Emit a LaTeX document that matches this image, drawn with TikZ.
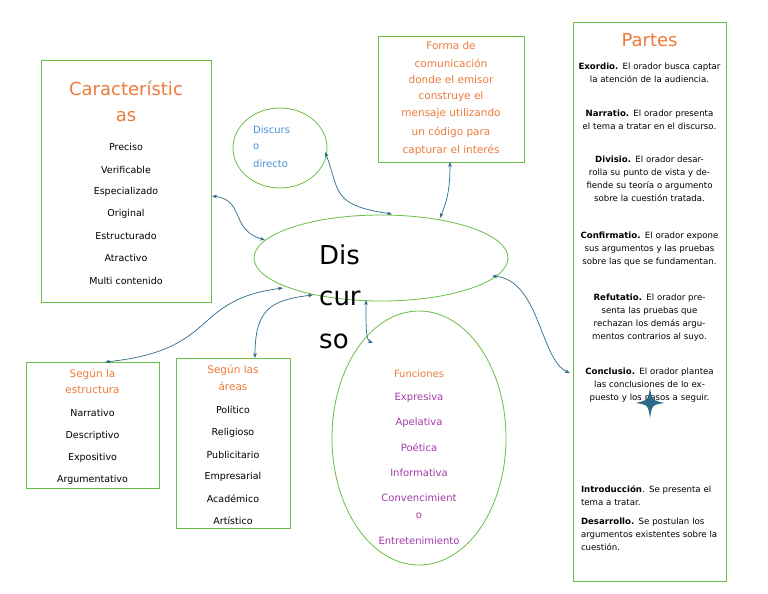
\documentclass[tikz,border=0pt]{standalone}
\usepackage{fontspec}
\setmainfont{DejaVu Sans}
\usetikzlibrary{arrows.meta}
\definecolor{gr}{HTML}{6BBE45}
\definecolor{orn}{HTML}{EE7B3A}
\definecolor{blu}{HTML}{4A90D9}
\definecolor{mag}{HTML}{A23AA8}
\definecolor{arr}{HTML}{2D6A8C}
\tikzset{
 box/.style={draw=gr,line width=0.8pt},
 con/.style={draw=arr,line width=0.7pt,{Stealth[length=5pt]}-{Stealth[length=5pt]}},
 li/.style={font=\fontsize{9.5}{11}\selectfont,inner sep=0pt},
 par/.style={font=\fontsize{8.6}{13}\selectfont,text width=142pt,align=center,inner sep=0pt,anchor=north},
 parl/.style={par,align=left}
}
\begin{document}
\begin{tikzpicture}[x=1pt,y=-1pt]
\useasboundingbox[fill=white] (0,0) rectangle (768,594);
% boxes
\node[box,minimum width=170pt,minimum height=242pt] (car) at (126,181) {};
\node[box,minimum width=146pt,minimum height=126pt] (forma) at (451,99) {};
\node[box,minimum width=153pt,minimum height=559pt] (partes) at (649.5,301.5) {};
\node[box,minimum width=133pt,minimum height=126pt] (est) at (92.5,425) {};
\node[box,minimum width=114pt,minimum height=170pt] (areas) at (233,443) {};
\draw[box] (280,148) ellipse [x radius=47,y radius=40];
\coordinate (dd) at (280,148);
\draw[box] (381,258) ellipse [x radius=127,y radius=43];
\coordinate (disc) at (381,258);
\draw[box] (419,438) ellipse [x radius=87,y radius=127];
\coordinate (fun) at (419,438);
% Caracteristicas
\node[li,text=orn,font=\fontsize{18}{20}\selectfont] (ct1) at (126,88) {Característic};
\node[li,text=orn,font=\fontsize{18}{20}\selectfont] (ct2) at (126,117) {as};
\foreach \t/\y [count=\i] in {Preciso/147,Verificable/170,Especializado/192,Original/214,Estructurado/236,Atractivo/258,Multi contenido/281}
  \node[li] (c\i) at (126,\y) {\t};
% Discurso directo
\foreach \t/\y [count=\i] in {Discurs/130,o/147,directo/164}
  \node[li,text=blu,anchor=west,font=\fontsize{10}{12}\selectfont] (d\i) at (253,\y) {\t};
% Forma
\foreach \t/\y [count=\i] in {Forma de/46,comunicación/63,donde el emisor/80,construye el/97,mensaje utilizando/114,un código para/132,capturar el interés/150}
  \node[li,text=orn,font=\fontsize{10.5}{12}\selectfont] (f\i) at (451,\y) {\t};
% Discurso
\foreach \t/\y [count=\i] in {Dis/255,cur/298,so/341}
  \node[li,font=\fontsize{26}{30}\selectfont,anchor=west] (s\i) at (319,\y) {\t};
% Funciones
\node[li,text=orn,font=\fontsize{10}{12}\selectfont] (fu0) at (419,374) {Funciones};
\foreach \t/\y [count=\i] in {Expresiva/398,Apelativa/423,Poética/448,Informativa/473,Convencimient/498,o/516}
  \node[li,text=mag,font=\fontsize{10}{12}\selectfont] (fu\i) at (419,\y) {\t};
\begin{scope}
\clip (fun) ellipse [x radius=86,y radius=126];
\node[li,text=mag,font=\fontsize{10}{12}\selectfont] (fu7) at (419,541) {Entretenimiento};
\end{scope}
% Segun estructura
\node[li,text=orn,font=\fontsize{10.5}{12}\selectfont] (e0) at (92.5,374) {Según la};
\node[li,text=orn,font=\fontsize{10.5}{12}\selectfont] (e00) at (92.5,390) {estructura};
\foreach \t/\y [count=\i] in {Narrativo/413,Descriptivo/436,Expositivo/458,Argumentativo/480}
  \node[li] (e\i) at (92.5,\y) {\t};
% Segun areas
\node[li,text=orn,font=\fontsize{10.5}{12}\selectfont] (a0) at (233,370) {Según las};
\node[li,text=orn,font=\fontsize{10.5}{12}\selectfont] (a00) at (233,386) {áreas};
\foreach \t/\y [count=\i] in {Político/410,Religioso/433,Publicitario/455,Empresarial/477,Académico/499}
  \node[li] (a\i) at (233,\y) {\t};
\begin{scope}
\clip (176,510) rectangle (290,527);
\node[li] (a6) at (233,521) {Artístico};
\end{scope}
% Partes
\node[li,text=orn,font=\fontsize{18}{20}\selectfont] (pt) at (649.5,40) {Partes};
\node[par] (p1) at (649.5,63) {\textbf{Exordio.} El orador busca captar la atención de la audiencia.};
\node[par] (p2) at (649.5,110) {\textbf{Narratio.} El orador presenta el tema a tratar en el discurso.};
\node[par] (p3) at (649.5,156) {\textbf{Divisio.} El orador desarrolla su punto de vista y defiende su teoría o argumento sobre la cuestión tratada.};
\node[par] (p4) at (649.5,232) {\textbf{Confirmatio.} El orador expone sus argumentos y las pruebas sobre las que se fundamentan.};
\node[par] (p5) at (649.5,294) {\textbf{Refutatio.} El orador presenta las pruebas que rechazan los demás argumentos contrarios al suyo.};
\node[par] (p6) at (649.5,368) {\textbf{Conclusio.} El orador plantea las conclusiones de lo expuesto y los pasos a seguir.};
\node[parl,text width=140pt] (p7) at (651,485) {\textbf{Introducción}. Se presenta el tema a tratar.};
\node[parl,text width=140pt] (p8) at (651,518) {\textbf{Desarrollo.} Se postulan los argumentos existentes sobre la cuestión.};
% star
\fill[arr] (650,388) .. controls (652,400) .. (664,403) .. controls (652,405) .. (650,418) .. controls (648,405) .. (636,403) .. controls (648,400) .. (650,388) -- cycle;
% connectors
\coordinate (k1) at (212,196); \coordinate (k2) at (265,240);
\draw[con] (k1) .. controls (245,200) and (230,230) .. (k2);
\coordinate (k3) at (325,152); \coordinate (k4) at (392,214);
\draw[con] (k3) .. controls (340,190) and (330,205) .. (k4);
\coordinate (k5) at (450,162); \coordinate (k6) at (440,218);
\draw[con] (k5) .. controls (450,195) and (445,205) .. (k6);
\coordinate (k7) at (492,276); \coordinate (k8) at (570,373);
\draw[con] (k7) .. controls (540,280) and (540,360) .. (k8);
\coordinate (k9) at (105,362); \coordinate (k10) at (283,288);
\draw[con] (k9) .. controls (220,350) and (190,300) .. (k10);
\coordinate (k11) at (255,358); \coordinate (k12) at (313,295);
\draw[con] (k11) .. controls (255,310) and (270,300) .. (k12);
\coordinate (k13) at (366,300); \coordinate (k14) at (373,343);
\draw[con] (k13) .. controls (366,330) and (366,340) .. (k14);
\end{tikzpicture}
\end{document}
